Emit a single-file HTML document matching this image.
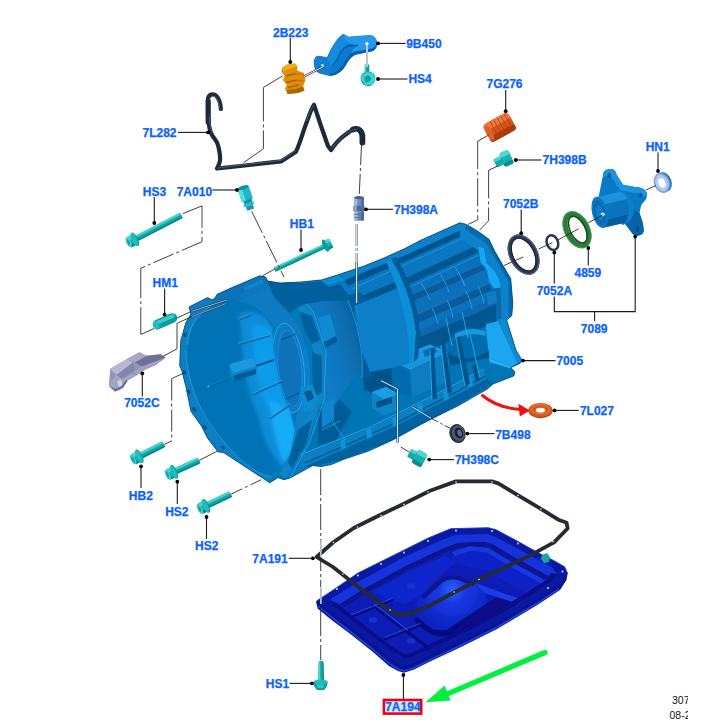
<!DOCTYPE html>
<html><head><meta charset="utf-8"><title>7A194 Transmission Case Exploded View</title>
<style>
html,body{margin:0;padding:0;background:#fff;}
body{width:725px;height:725px;overflow:hidden;font-family:"Liberation Sans",sans-serif;}
svg{display:block;position:absolute;left:0;top:0;}
.lb{font-family:"Liberation Sans",sans-serif;font-weight:bold;font-size:12px;fill:#0a62fb;stroke:#0a62fb;stroke-width:0.25px;}
.ld{stroke:#1a1a1a;stroke-width:1.1;fill:none;}
.dt{fill:#000;}
.dd{stroke:#222;stroke-width:0.9;fill:none;stroke-dasharray:22 3 3 3;}
.sl{stroke:#222;stroke-width:0.9;fill:none;}
.wl{stroke:#fff;stroke-width:1.2;fill:none;}
</style></head><body>
<svg width="725" height="725" viewBox="0 0 725 725">
<rect width="725" height="725" fill="#fff"/>
<defs>
<clipPath id="trClip"><path id="trSil" d="M189,307 L207.6,297.6 L211.7,299.7 L214.8,298.6 L216.9,294.5 L230.3,288.3 L242.8,283.1 L259.3,275.9 L265.5,276.9 L267.6,281 L280,283 L300.7,282 L321.4,280 L338,274.8 L362.8,266.5 L383.4,258.3 L404,249 L420.7,240.3 L441.4,231 L460,222.8 L466.2,224.4 L477.6,231 L489,239.3 L495,251.7 L503.4,266.2 L510.7,278.6 L512.8,303.4 L511.7,315.9 L506.6,320 L515.9,350 L522,360.3 L520,363.4 L510.7,367.6 L514.8,371.7 L513.8,375.9 L493,384 L487,389.3 L472.4,397.6 L458,405.9 L441.4,414 L420.7,424.5 L393.4,439.7 L368.6,451 L343.8,459.3 L331.4,464.5 L321,466.6 L312.8,465.5 L290,478 L284,479.7 L277.9,477.6 L269.7,482.8 L263.4,478.6 L242.8,465.2 L224,452.8 L217.9,451.7 L207.6,438.3 L201.4,425.9 L191,411.4 L185.9,386.6 L181.7,370 L179.7,365.9 L180.7,341 L185.9,322.4 L191,314 Z"/></clipPath>
<linearGradient id="gBell" gradientUnits="userSpaceOnUse" x1="185" y1="360" x2="305" y2="400">
<stop offset="0" stop-color="#0a6fae"/><stop offset="0.35" stop-color="#0a74b4"/><stop offset="0.52" stop-color="#0f86cc"/><stop offset="0.62" stop-color="#1ba0e4"/><stop offset="0.78" stop-color="#1492d6"/><stop offset="1" stop-color="#0b78ba"/>
</linearGradient>
<linearGradient id="gBody" gradientUnits="userSpaceOnUse" x1="380" y1="245" x2="420" y2="420">
<stop offset="0" stop-color="#0d80c2"/><stop offset="0.3" stop-color="#0b78b8"/><stop offset="0.6" stop-color="#0a6fae"/><stop offset="1" stop-color="#0a72b2"/>
</linearGradient>
<linearGradient id="gTeal" x1="0" y1="0" x2="0" y2="1"><stop offset="0" stop-color="#4fd6d2"/><stop offset="0.45" stop-color="#14aeb0"/><stop offset="1" stop-color="#0a8890"/></linearGradient>
<linearGradient id="gPan" gradientUnits="userSpaceOnUse" x1="330" y1="560" x2="560" y2="640">
<stop offset="0" stop-color="#0a1aa6"/><stop offset="0.5" stop-color="#0c22c4"/><stop offset="1" stop-color="#0a1cb0"/>
</linearGradient>
<clipPath id="bellInt"><path d="M184,345 C186,326 196,312 210,305 C224,298 244,300 259,310 L272,327 L274,351 L278.8,377.7 L283,395 L289.8,408.6 L295,430 L290,455 L280,470 L270,477 C250,474 228,452 210,428 C194,404 182,372 184,345 Z"/></clipPath>
<filter id="blur2" x="-20%" y="-20%" width="140%" height="140%"><feGaussianBlur stdDeviation="2.2"/></filter>
<filter id="blur1" x="-10%" y="-10%" width="120%" height="120%"><feGaussianBlur stdDeviation="1.1"/></filter>
<filter id="softT" x="-2%" y="-2%" width="104%" height="104%"><feGaussianBlur stdDeviation="0.45"/></filter>
<linearGradient id="gMid" gradientUnits="userSpaceOnUse" x1="318" y1="360" x2="364" y2="345"><stop offset="0" stop-color="#0a7cc4"/><stop offset="0.45" stop-color="#0976bc"/><stop offset="1" stop-color="#0664a4"/></linearGradient>
</defs>
<!-- TRANSMISSION CASE -->
<g id="trans">
<use href="#trSil" fill="#067abc"/>
<g clip-path="url(#trClip)"><g filter="url(#softT)">
<!-- ===== barrel bands (rear cylinder) ===== -->
<path d="M340,270 L404,246 L462,220 L466,228 L404,256 L345,280 Z" fill="#0a80ca"/>
<path d="M345,280 L404,256 L466,228 L468,233 L404,262 L348,286 Z" fill="#06528e"/>
<path d="M348,286 L404,262 L468,233 L476,246 L410,276 L352,300 Z" fill="#0a76c0"/>
<path d="M352,300 L410,276 L476,246 L479,252 L412,283 L354,306 Z" fill="#06568f"/>
<path d="M354,306 L412,283 L479,252 L488,276 L494,298 L420,330 L362,352 Z" fill="#0a70ba"/>
<path d="M400,300 L484,264 L486,269 L402,306 Z" fill="#075a98"/>
<path d="M410,318 L490,284 L492,290 L413,325 Z" fill="#075a98"/>
<path d="M362,352 L420,330 L494,298 L496,322 L440,346 L392,366 L370,372 Z" fill="#0868ae"/>
<path d="M404,344 L470,316 L496,304 L496,322 L440,346 L408,360 Z" fill="#06568f"/>
<!-- barrel circumferential light lines -->
<g stroke="#22a2ea" stroke-width="0.9" fill="none">
<path d="M421,283 C425,289 428,294 430,300"/><path d="M440,274 C444,280 447,286 449,292"/><path d="M455,267 C459,273 462,279 464,285"/>
<path d="M432,308 C435,314 437,319 438,324"/><path d="M447,300 C450,306 452,312 453,318"/><path d="M458,272 C462,278 464,282 465,286"/><path d="M466,291 C469,297 471,303 472,309"/><path d="M478,286 C481,292 483,298 484,304"/>
<path d="M352,289 L404,265 L468,236" stroke-width="0.7"/><path d="M356,309 L412,286 L479,255" stroke-width="0.7"/>
</g>
<!-- ===== end flange ===== -->
<path d="M459.7,222.8 L466,224.4 L477.6,231 L489,239.3 L495,251.7 L503.4,266.2 L510.7,278.6 L512.8,303.4 L511.7,315.9 L506.6,320 L497,323 L496,296 L489,277 L479,251 L460,238 Z" fill="#0a82ca"/>
<path d="M478.1,246.5 L483.9,248.1 L486.4,263 L494.7,271.3 L499.6,281.2 L500.5,287.8 L494.7,288.7 L488.9,281.2 L487.2,270.5 L480.6,262.2 Z" fill="#16a6f2"/>
<path d="M489.5,289 L500.5,287.8 L501.5,318 L496.5,321 L495.5,300 Z" fill="#0868ae"/>
<path d="M486.5,293 L496,291 L497,303 L488,305 Z" fill="#0a7cc4"/>
<path d="M466,224.4 L489,239.3 L510.7,278.6 L512.8,303.4 L511.7,315.9 L508.5,317 L508.5,282 L486.5,243.5 L465,229 Z" fill="#066aae"/>

<!-- ===== lower right ===== -->
<path d="M486,324 L507.6,319 L521,360.3 L511.7,366.6 L489,358.3 L486,340 Z" fill="#1ba6ee"/>
<path d="M498,321.5 L507.6,319 L522,360.3 L517.5,363.5 Z" fill="#0e8ad0"/>
<path d="M489,358.3 L511.7,366.6 L514.8,371.7 L513.8,375.9 L493,384 L478,374 Z" fill="#0676b8"/>
<path d="M489,358.3 L511.7,366.6 L510.7,368.5 L486,361 Z" fill="#2ab0f0"/>
<!-- servo cylinder -->
<path d="M452,336 C458,328 472,326 486,330 L489,357 C482,366 464,371 452,366 C446,356 446,344 452,336 Z" fill="#066cb0"/>
<path d="M455,334 C462,329 474,328 485,331 L485.5,336 C474,333 463,334 455,339 Z" fill="#1a98dc"/>
<path d="M448,352 C458,362 476,360 489,350 L489,358 C478,368 460,372 450,366 Z" fill="#03528a"/>
<!-- ===== valve body / lower ===== -->
<path d="M352,380 L392,366 L440,346 L449,366 L489,358 L493,384 L441.4,414 L393.4,439.7 L343.8,459.3 L312.8,465.5 L300,440 L322,400 Z" fill="#0574b6"/>
<!-- dark shadow left of accumulator box -->
<path d="M362,354 L378,346 L392,358 L393,390 L380,396 L364,390 Z" fill="#03528a"/>
<!-- boss near 7H398A target -->
<path d="M353,348 L366,343 L369,360 L357,367 Z" fill="#0c8ad0"/><circle cx="361" cy="355" r="2" fill="#03528a"/>
<!-- accumulator box -->
<path d="M391,361 L430,345 L447,353 L410,370 Z" fill="#1296de"/>
<path d="M391,361 L410,370 L412,398 L393,391 Z" fill="#066aae"/>
<path d="M410,370 L447,353 L449,381 L412,398 Z" fill="#087cc0"/>
<path d="M391,361 L430,345 L447,353" stroke="#2eaef0" stroke-width="0.9" fill="none"/>
<path d="M423,351 L435,346.5 L437,352 L425,357 Z" fill="#066aae"/>
<!-- fittings cluster -->
<path d="M372,392 L386,387 L398,394 L398,410 L384,416 L372,408 Z" fill="#0a84c8"/>
<path d="M372,392 L386,387 L398,394 L384,399 Z" fill="#1f9ee2"/>
<path d="M376,402 L392,397 L392,403 L377,408 Z" fill="#03528a"/>
<!-- rail (pan flange) -->
<path d="M300,467 L344,448 L398,424 L441,402 L486,378 L493,384 L441.4,414 L393.4,439.7 L343.8,459.3 L312.8,466.5 Z" fill="#0562a0"/>
<path d="M300,456 L330,444 L370,428 L410,408 L450,388 L484,370 L487,379 L441,403 L398,425 L344,449 L302,468 Z" fill="#087ec2"/>
<path d="M300,455 L330,443 L370,427 L410,407 L450,387 L484,369" stroke="#2aa8ea" stroke-width="0.9" fill="none"/>
<path d="M305,463 L344,446 L398,422 L441,400 L486,376" stroke="#03528a" stroke-width="1.2" fill="none"/>
<!-- rail lugs -->
<g fill="#1094dc"><path d="M340,441 l5,-2 l1,9 l-5,2 z"/><path d="M366,430 l5,-2 l1,9 l-5,2 z"/><path d="M392,418 l5,-2 l1,9 l-5,2 z"/><path d="M417,405 l5,-2 l1,9 l-5,2 z"/><path d="M443,392 l5,-2 l1,9 l-5,2 z"/><path d="M467,379 l5,-2 l1,9 l-5,2 z"/></g>
<!-- lower-left dark pocket near bell -->
<path d="M318,410 L340,400 L352,412 L336,440 L318,446 Z" fill="#045c98"/>
<path d="M330,418 L345,440 M322,430 L340,421" stroke="#2aa6e6" stroke-width="0.8" fill="none"/>
<!-- ribs lower (vertical fins) -->
<g fill="#03528a"><path d="M441,345 L445,343 L452,392 L447,394 Z"/><path d="M456,338 L460,336 L470,384 L465,386 Z"/><path d="M430,350 L434,349 L437,398 L432,400 Z"/><path d="M472,366 L476,364 L480,380 L476,382 Z"/></g>
<g stroke="#2eaaea" stroke-width="0.9" fill="none"><path d="M441,345 L447,394"/><path d="M456,338 L465,386"/><path d="M430,350 L432,400"/><path d="M470,334 L480,378"/><path d="M446,318 L452,346"/><path d="M462,312 L468,338"/></g>
<!-- ===== mid-section smooth ===== -->
<path d="M290,296 L340,288 L352,300 L362,352 L370,372 L352,380 L330,412 L318,400 L324,352 L312,312 Z" fill="url(#gMid)"/>
<path d="M346,296 C358,322 364,352 362,380 L372,376 L378,346 L372,310 L360,292 Z" fill="#055c9a"/>
<path d="M346,296 C358,322 364,352 362,378" stroke="#27a4e4" stroke-width="0.8" fill="none"/>
<!-- top rail over bell rear -->
<path d="M262,276 L267.6,281 L300.7,282 L338,274.8 L345,280 L309,291 L265,294 Z" fill="#0c8ad0"/>
<path d="M280,296.5 L309,292 L340,284.3 L352,300 L322,301 L294,306.4 Z" fill="#045e9a"/>
<!-- ===== ring (circumferential flange) ===== -->
<path d="M354,306 L403,286 C409,300 414,316 416,332 L414,362 L392,368 L370,372 L362,352 Z" fill="#0a7ec8"/>
<path d="M386,261 L391,259 C402,276 412,300 416,332 L414,362 L409,363 C410,330 402,296 386,261 Z" fill="#0e8ed8"/>
<path d="M391,259 L396,257 C408,276 418,304 420,334 L418,358 L414,362 L416,332 C412,300 402,276 391,259 Z" fill="#045c98"/>
<!-- ===== bell rear cone ===== -->
<path d="M216,294 L262,276 L290,284 L312,312 L324,352 L322,400 L308,440 L286,478 L268,483 L262,470 L290,430 L298,380 L290,330 L268,300 Z" fill="#0679bb"/>
<path d="M216,294 L262,276 L290,284 L308,306 L292,302 L268,292 L228,302 Z" fill="#0a72ba"/>
<path d="M290,284 L312,312 L324,352 L322,400 L308,440 L286,478 L280,474 L300,436 L313,398 L314,352 L304,316 L284,292 Z" fill="#0a84c8"/>
<path d="M292,286 L314,313 L326,352 L324,400 L310,441 L290,478" stroke="#27a4e4" stroke-width="0.9" fill="none"/>
<!-- strap over bell top + shadow -->
<path d="M267,281 L300,283 L322,281 L332,290 L318,300 L300,306 L290,313 L274,297 Z" fill="#04609e"/>
<path d="M233,286.5 L259.8,275.8 L267,281 L274,297 L286.7,311.6 L299,326 L306,346 L310,372 L296,372 L290,345 L276,327.8 L265,315 L247,301 L233,292 Z" fill="#0a7ac2"/>
<path d="M233,286.5 L259.8,275.8 L267,281 L270,288 L244,298 Z" fill="#0a76be"/>
<path d="M306,346 L310,372 L308,410 L300,440 L288,466 L281,470 L292,440 L298,408 L298,372 L296,372 Z" fill="#0a80c8"/>
<!-- dark pockets in bell rear -->
<path d="M300,312 L312,316 L320,340 L312,344 L304,330 Z" fill="#04609e"/>
<path d="M312,352 L322,356 L322,392 L313,398 Z" fill="#05649f"/>
<path d="M298,430 L312,420 L306,444 L292,468 L288,462 Z" fill="#04609e"/>
<!-- lugs on bell rear -->
<path d="M318,318 L330,314 L336,336 L324,342 Z" fill="#0e8cd4"/><path d="M324,342 L336,336 L337,342 L325,348 Z" fill="#045c98"/>
<path d="M322,404 L334,398 L334,420 L322,428 Z" fill="#0c86ce"/>
<!-- hub flange (pump cover) -->
<ellipse cx="288.5" cy="368" rx="15.5" ry="45" transform="rotate(-6 288.5 368)" fill="#0a7cc4"/>
<ellipse cx="288.5" cy="368" rx="15.5" ry="45" transform="rotate(-6 288.5 368)" fill="none" stroke="#2aa8ea" stroke-width="0.9"/>
<ellipse cx="290" cy="368.5" rx="11.5" ry="38" transform="rotate(-6 290 368.5)" fill="#0872b8" stroke="#1c98dc" stroke-width="0.7"/>
<path d="M281,340 L296,334 M284,400 L299,393" stroke="#045c98" stroke-width="1.2" fill="none"/>
<!-- connector on pump cover -->
<path d="M300,388 L312,384 L318,398 L314,410 L304,412 Z" fill="#0c8ad0"/>
<path d="M304,392 L311,390 L314,398 L308,402 Z" fill="#07588e"/>
<!-- ===== bell interior ===== -->
<path d="M184,345 C186,326 196,312 210,305 C224,298 244,300 259,310 L272,327 L274,351 L278.8,377.7 L283,395 L289.8,408.6 L295,430 L290,455 L280,470 L270,477 C250,474 228,452 210,428 C194,404 182,372 184,345 Z" fill="#0472b6"/>
<!-- crescent bright (soft) -->
<g clip-path="url(#bellInt)">
<g filter="url(#blur2)">
<path d="M239,314 C252,308 266,314 274,327 L276,351 L281,377.7 L285,395 L292,408.6 L297,430 L293,452 L284,468 C272,458 262,440 258,415 C250,400 246,380 244,369 C242,350 241,330 239,314 Z" fill="#0a8cd8"/>
<path d="M252,326 C260,322 268,326 273,334 L275,352 L279.5,378 L284,396 L290.5,410 L296,430 L293,448 L286,462 C278,448 272,430 270,412 C262,398 258,380 256,368 C254,350 253,338 252,326 Z" fill="#0c9cec"/>
<path d="M270,400 L290.5,410 L296,430 L293,450 L284,464 C276,446 271,424 270,400 Z" fill="#18acf6"/>
</g>
</g>
<!-- ribs in bell -->
<g stroke="#045c98" stroke-width="1.6" fill="none"><path d="M238,344.5 L270,335.7"/><path d="M252,395 L283,381"/><path d="M270,418.5 L289.8,405"/><path d="M238,320 L252,314.7"/></g>
<g stroke="#2aa8e8" stroke-width="0.9" fill="none"><path d="M238,343.5 L270,334.7"/><path d="M252,394 L283,380"/><path d="M270,417.5 L289.8,404"/><path d="M238,319 L252,313.7"/></g>
<!-- shaft stub -->
<path d="M230,364 L251,358 C256,360 258,368 256,374 L235,381 C230,378 228,370 230,364 Z" fill="#0a84c8"/>
<path d="M230,364 L251,358 C254,359 256,362 257,366 L233,373 C231,370 230,367 230,364 Z" fill="#1a98dc"/>
<path d="M233,376 L256,369 L256,374 L235,381 Z" fill="#045c98"/>
<path d="M208,386.8 L231,378" stroke="#045c98" stroke-width="1.6"/><path d="M208,386 L231,377.2" stroke="#1088d0" stroke-width="0.8"/><circle cx="208.5" cy="386.4" r="1.2" fill="#22b0f4"/>
<path d="M256,366 L274,360" stroke="#07588e" stroke-width="2"/>
<!-- rim band -->
<path d="M189,307 L191,314 L185.9,322.4 L180.7,341 L179.7,365.9 L185.9,386.6 L191,411.4 L207.6,438.3 L224,452.8 L263.4,478.6 L269.7,482.8 L272,477 C252,474 230,452 212,428 C196,404 185,372 187,345 C189,326 198,313 211,306 L214.8,298.6 L207.6,297.6 Z" fill="#0c7ec0"/>
<path d="M187,345 C189,326 198,313 211,306" stroke="#2aa8e8" stroke-width="0.9" fill="none"/>
<path d="M186,350 C186,376 197,406 213,428 C231,452 252,474 272,477" stroke="#1f9ee0" stroke-width="0.9" fill="none"/>
<!-- rim notches -->
<g fill="#045a96"><path d="M183.5,333 l3.2,-0.6 l0.3,4 l-3.2,0.6 z"/><path d="M182.6,370 l3.2,0.2 l0.5,4.4 l-3,-0.2 z"/><path d="M186.6,390 l3,-0.6 l1.4,4.4 l-3,0.8 z"/><path d="M191.6,408 l2.8,-1.2 l2.4,4.2 l-2.8,1.4 z"/><path d="M202,426 l2.6,-1.6 l3,4 l-2.6,1.8 z"/><path d="M220,447 l2.4,-1.8 l3.4,3 l-2.2,2 z"/></g>
<!-- rim top lugs -->
<path d="M189,307 L207.6,297.6 L211.7,299.7 L194,309 Z" fill="#0c7cc4"/>
<path d="M216.9,294.5 L259.3,275.9 L265.5,276.9 L267.6,281 L228,300 L214.8,298.6 Z" fill="#0a72ba"/><path d="M243,287.5 L262,279.5 L263.5,283 L245,291 Z" fill="#1084cc"/>
</g></g>
<use href="#trSil" fill="none" stroke="#06507f" stroke-width="0.9" stroke-linejoin="round"/>
</g>
<!-- OIL PAN 7A194 -->
<g id="pan">
<defs>
<clipPath id="panWell"><path d="M329,600 L359.7,580.7 L403.8,557.2 L439.7,540.7 L456,534.5 L487,534 L494,536 L517,548 L536,558.5 L552,567 L557,574 L552,581 L530,596 L495,617 L460,635 L430,649 L410,658 L403.4,658 L390,650 L372,636 L351,620 L335,607 Z"/></clipPath>
<radialGradient id="gSump" gradientUnits="userSpaceOnUse" cx="452" cy="590" r="40"><stop offset="0" stop-color="#2a62ff"/><stop offset="0.35" stop-color="#1638e0"/><stop offset="1" stop-color="#0c22c0"/></radialGradient>
<filter id="soft" x="-5%" y="-5%" width="110%" height="110%"><feGaussianBlur stdDeviation="0.6"/></filter>
</defs>
<!-- skirt / outer -->
<path d="M316,601.5 L331,592 L358,573.4 L403.4,550.7 L428.3,538.3 L450.7,529 L488,528 L496,530 L519,542.4 L537.6,552.8 L554,561 L564.5,567 L567.6,573.4 L566.5,580 L560,590 L538,604.5 L497,629 L461,647 L430,661.4 L414,669.5 L404,672.8 L398,671 L389,666 L372.4,651.6 L351.7,635 L331,619.5 L317.6,608.5 Z" fill="#08148e"/>
<!-- skirt highlight -->
<path d="M318,606 L332,617.5 L352,633 L373,649.5 L390,664 L399,669.5 L404,671 L414,667.8 L430,659.8 L461,645.2 L497,627.3 L538,602.8 L559,589" stroke="#1a44e0" stroke-width="1.6" fill="none" stroke-linejoin="round"/>
<!-- flange top -->
<path d="M316.5,601 L331,591.5 L358,573 L403.4,550.4 L428.3,538 L450.7,528.7 L488,527.7 L496,529.7 L519,542 L537.6,552.5 L554,560.7 L564.5,566.7 L567.6,573.4 L562,582 L538,598.5 L497,623 L461,641 L430,655 L410,664.5 L403,666 L390,658 L372,643.5 L351,627.5 L331,612 Z" fill="#0a1aa0"/>
<g clip-path="url(#panWell)" filter="url(#soft)">
<rect x="320" y="525" width="250" height="140" fill="#0b1eb4"/>
<!-- far wall (top-left) lit -->
<path d="M329,600 L359.7,580.7 L403.8,557.2 L439.7,540.7 L456,534.5 L487,534 L494,536 L517,548 L536,558.5 L552,567 L557,574 L548,576 L530,566 L512,556 L492,544 L484,542 L458,543 L442,549 L406,566 L364,589 L340,604 Z" fill="#1432da"/>
<path d="M340,604 L364,589 L406,566 L442,549 L458,543 L484,542 L492,544 L512,556 L530,566 L548,576 L544,579 L528,570 L510,560 L490,548 L484,546.5 L459,547.5 L444,553 L408,570 L366,593 L345,607 Z" fill="#08128a"/>
<!-- upper-right raised plateau -->
<path d="M452,552 L470,546 L488,548 L508,560 L528,571 L546,581 L528,594 L506,582 L486,570 L466,566 L452,560 Z" fill="#0c24c4"/>
<path d="M452,552 L470,546 L488,548 L508,560 L528,571 L546,581 L542,584 L524,574 L506,564 L487,552.5 L471,550.5 L455,556 Z" fill="#1838e0"/>
<!-- deep sump -->
<path d="M440,579 C444,576 452,574 460,576 L476,583 C484,588 488,598 486,604 L448,629 C442,632 434,630 428,626 L416,616 C412,610 416,602 422,596 Z" fill="url(#gSump)"/>
<path d="M416,616 L428,626 C434,630 442,632 448,629 L486,604 L487,610 L449,635 C442,638 433,636 427,632 L414,621 Z" fill="#06107c"/>
<path d="M440,579 C444,576 452,574 460,576 L476,583 L473,586 L459,580 C452,578 446,580 442,583 L424,599 L421,596 Z" fill="#08128a"/>
<!-- step right of sump -->
<path d="M476,583 L500,592 L529,602 L524,606 L497,597 L484,593 Z" fill="#1a3ce4"/>
<path d="M486,604 L497,597 L524,606 L512,613 L492,620 L470,632 L449,635 Z" fill="#07108a"/>
<!-- lit floor band upper-left of sump -->
<path d="M372,592 L408,572 L444,556 L456,562 L438,578 L420,596 L404,604 L386,598 Z" fill="#0e26cc"/>
<!-- stamped ribs lower-left -->
<g stroke="#050d70" stroke-width="2.8" fill="none" stroke-linecap="round"><path d="M351,616.5 L392,600"/><path d="M385,639 L420,625"/><path d="M373,605.5 L406,631"/><path d="M406,631 L430,649"/></g>
<g stroke="#2048e8" stroke-width="1.1" fill="none" stroke-linecap="round"><path d="M351,615 L392,598.5"/><path d="M385,637.5 L420,623.5"/><path d="M374.5,604.5 L407.5,630"/></g>
<ellipse cx="373" cy="620" rx="4.5" ry="3" fill="#1230cc"/><ellipse cx="411" cy="641" rx="4.5" ry="3" fill="#1230cc"/><ellipse cx="411" cy="586" rx="4.5" ry="3" fill="#1230cc"/>
<!-- near walls inside (shadowed) -->
<path d="M329,600 L335,607 L351,620 L372,636 L390,650 L403.4,658 L410,658 L430,649 L460,635 L495,617 L530,596 L552,581 L557,574 L551,573 L546,580 L526,593 L493,613 L458,631 L428,645 L409,654 L404,654 L392,646.5 L374,632.5 L353,616.5 L338,604 Z" fill="#07108a"/>
</g>
<!-- flange edge highlight & bolt holes -->
<path d="M316.5,601 L331,591.5 L358,573 L403.4,550.4 L428.3,538 L450.7,528.7 L488,527.7 L496,529.7 L519,542 L537.6,552.5 L554,560.7 L564.5,566.7 L567.6,573.4" stroke="#1a3ad8" stroke-width="0.9" fill="none"/>
<g fill="#dfe6ff">
<circle cx="337" cy="589" r="0.9"/><circle cx="358" cy="575.5" r="0.9"/><circle cx="381" cy="564" r="0.9"/><circle cx="404" cy="552.5" r="0.9"/><circle cx="428" cy="541" r="0.9"/><circle cx="456" cy="530.5" r="0.9"/><circle cx="492" cy="531" r="0.9"/><circle cx="518" cy="543.5" r="0.9"/><circle cx="562.5" cy="571.5" r="0.9"/><circle cx="548" cy="588" r="0.9"/>
</g>
<!-- drain plug -->
<path d="M542,555 L547,553 L550,557 L549,562 L544,563 L541,559 Z" fill="#18a89c"/>
</g>
<!-- GASKET 7A191 -->
<g id="gasket">
<path d="M316.6,557 L333,542.5 L353.8,528 L378,516 L403.4,504 L430,490.7 L455.9,481.4 L492,481.4 L498.3,483.4 L519,495.9 L541.7,509.3 L558.3,519.7 L566.6,522.8 L567.6,528.5 L554,542.4 L529.3,555.9 L492,573.4 L454.8,592 L430,605.5 L410,613.5 L397,614.8 L378.6,602.4 L351.7,581.7 L333,567 Z" fill="none" stroke="#262a32" stroke-width="3.8" stroke-linejoin="round"/>
<g fill="#e8ecf2">
<circle cx="333.5" cy="542.5" r="0.8"/><circle cx="357.5" cy="527" r="0.8"/><circle cx="381" cy="515.5" r="0.8"/><circle cx="404" cy="504.5" r="0.8"/><circle cx="428" cy="492" r="0.8"/><circle cx="456" cy="482" r="0.8"/><circle cx="492" cy="482" r="0.8"/><circle cx="518" cy="495.5" r="0.8"/><circle cx="541" cy="509" r="0.8"/><circle cx="562.5" cy="523.5" r="0.8"/><circle cx="553" cy="541.5" r="0.8"/><circle cx="479" cy="579.5" r="0.8"/><circle cx="454" cy="592" r="0.8"/><circle cx="390" cy="610" r="0.8"/><circle cx="343" cy="574" r="0.8"/>
</g>
</g>
<!-- SMALL PARTS -->
<defs>
<linearGradient id="gTealD" gradientUnits="objectBoundingBox" x1="0" y1="0" x2="0.35" y2="1"><stop offset="0" stop-color="#52d8d4"/><stop offset="0.5" stop-color="#17b0b2"/><stop offset="1" stop-color="#0a8a92"/></linearGradient>
<g id="boltL">
<rect x="-6.2" y="-5.2" width="7" height="10.4" rx="2" fill="#16aeb0"/>
<rect x="-6.2" y="-5.2" width="7" height="3.6" rx="1.6" fill="#4cd6d2"/>
<rect x="-6.2" y="2.6" width="7" height="2.6" rx="1.2" fill="#0b8a90"/>
<ellipse cx="0.6" cy="0" rx="2.5" ry="6.9" fill="#109a9e"/>
<ellipse cx="-0.2" cy="0" rx="2.3" ry="6.7" fill="#22bcbc"/>
<ellipse cx="-6" cy="0" rx="2.1" ry="4.9" fill="#3ccccc"/>
<ellipse cx="-6.2" cy="0" rx="1.1" ry="2.8" fill="#14a4a6"/>
</g>
<g id="boltR">
<ellipse cx="0" cy="0" rx="2.5" ry="6.6" fill="#22bcbc"/>
<rect x="0" y="-5" width="6" height="10" rx="2" fill="#16aeb0"/>
<rect x="0" y="-5" width="6" height="3.4" rx="1.6" fill="#4cd6d2"/>
<rect x="0" y="2.6" width="6" height="2.4" rx="1.2" fill="#0b8a90"/>
<ellipse cx="-0.8" cy="0" rx="2.2" ry="6.4" fill="#109a9e"/>
</g>
</defs>
<!-- HS3 -->
<g transform="translate(134.5,239.5) rotate(-27.3)"><rect x="0" y="-3.0" width="52.9" height="6.0" rx="2.4" fill="#12a4a6"/><rect x="0" y="-3.0" width="52.9" height="2.16" rx="1.08" fill="#48d2ce"/><rect x="0" y="1.44" width="52.9" height="1.56" rx="0.78" fill="#0a868c"/><use href="#boltL" transform="scale(1.08)"/></g>
<!-- HB1 -->
<g transform="translate(274.5,269.8) rotate(-25.3)"><rect x="0" y="-2.3" width="56.9" height="4.6" rx="1.8" fill="#12a4a6"/><rect x="0" y="-2.3" width="56.9" height="1.66" rx="0.83" fill="#48d2ce"/><rect x="0" y="1.10" width="56.9" height="1.20" rx="0.60" fill="#0a868c"/><use href="#boltR" transform="translate(56.9,0) scale(1.0)"/></g>
<!-- HM1 pin -->
<g><path d="M157.5,324.5 L172.5,318" stroke="#0f9c9e" stroke-width="9.6" stroke-linecap="round"/><path d="M157.5,322.6 L172.5,316.2" stroke="#3cccc8" stroke-width="3.6" stroke-linecap="round"/><ellipse cx="156.1" cy="325.2" rx="2.9" ry="4.5" transform="rotate(-20 156.3 325)" fill="#26bcbc"/></g>
<!-- HB2 -->
<g transform="translate(139,456.5) rotate(-26.6)"><rect x="0" y="-3.2" width="28.0" height="6.4" rx="2.6" fill="#12a4a6"/><rect x="0" y="-3.2" width="28.0" height="2.30" rx="1.15" fill="#48d2ce"/><rect x="0" y="1.54" width="28.0" height="1.66" rx="0.83" fill="#0a868c"/><use href="#boltL" transform="scale(1.08)"/></g>
<!-- HS2 a -->
<g transform="translate(173.7,472) rotate(-24.5)"><rect x="0" y="-3.2" width="28.2" height="6.4" rx="2.6" fill="#12a4a6"/><rect x="0" y="-3.2" width="28.2" height="2.30" rx="1.15" fill="#48d2ce"/><rect x="0" y="1.54" width="28.2" height="1.66" rx="0.83" fill="#0a868c"/><use href="#boltL" transform="scale(1.08)"/></g>
<!-- HS2 b -->
<g transform="translate(205.7,506) rotate(-25.4)"><rect x="0" y="-3.2" width="28.0" height="6.4" rx="2.6" fill="#12a4a6"/><rect x="0" y="-3.2" width="28.0" height="2.30" rx="1.15" fill="#48d2ce"/><rect x="0" y="1.54" width="28.0" height="1.66" rx="0.83" fill="#0a868c"/><use href="#boltL" transform="scale(1.08)"/></g>
<!-- HS1 (vertical) -->
<g><path d="M318.6,662 C318.6,660.2 323.4,660.2 323.4,662 L324,681 L318,681 Z" fill="#12a4a6"/><path d="M318.7,662 L320.2,661 L320.4,681 L318.1,681 Z" fill="#52d8d4"/><path d="M322.6,662 L323.4,662.5 L324,681 L322.8,681 Z" fill="#0a868c"/>
<ellipse cx="320.6" cy="682" rx="7.2" ry="2.6" fill="#22bcbc"/><path d="M313.4,682 L314.2,686.5 L317,689.8 L324,689.8 L326.8,686.5 L327.8,682 C326,684.6 315.5,684.6 313.4,682 Z" fill="#12a0a4"/><path d="M317,684.2 L317.6,689.8 L323.4,689.8 L324,684.2 Z" fill="#2cc4c2"/><path d="M314.2,686.5 L317,689.8 L324,689.8 L326.8,686.5 L324.5,688.5 L316.5,688.5 Z" fill="#0a8288"/></g>
<!-- HS4 -->
<g><path d="M367,64.5 V73" stroke="#0f9a9c" stroke-width="4.6"/><path d="M365.6,64.5 V73" stroke="#44d0cc" stroke-width="1.3"/><circle cx="368" cy="78.6" r="7.4" fill="#14aeb0"/><path d="M361.5,76.5 L366,72 L372.5,73 L375.2,78.5 L372,84.8 L365.5,85.5 L361.5,81.5 Z" fill="#3fd4d0"/><path d="M364,77.5 L368,75 L371.5,78.5 L369,82 L365.5,82.5 Z" fill="#0f9a9c"/><path d="M361,80 A7.4 7.4 0 0 0 373,84.2 L372,84.8 L365.5,85.5 Z" fill="#0a8288"/></g>
<!-- 7A010 -->
<g transform="translate(247 199) scale(1.06) translate(-247 -199) rotate(-19 247 199)"><rect x="241.5" y="187.5" width="11" height="13" rx="1.2" fill="#1fb6c6"/><rect x="241.5" y="187.5" width="4" height="13" fill="#5adce4"/><rect x="243" y="200" width="8" height="3" fill="#0f94a6"/><rect x="242" y="203" width="10" height="2.6" fill="#22bccc"/><rect x="243.5" y="205.6" width="7" height="4" fill="#139cae"/><ellipse cx="247" cy="187.7" rx="5.5" ry="1.8" fill="#0f90a2"/></g>
<!-- 7H398A -->
<g><rect x="354.2" y="197" width="9.6" height="9.5" rx="1.6" fill="#6f8cb8"/><rect x="354.2" y="197" width="3.2" height="9.5" rx="1" fill="#a2bcdc"/><rect x="361.4" y="197" width="2.4" height="9.5" rx="1" fill="#4a6590"/><ellipse cx="359" cy="197.4" rx="4.6" ry="1.5" fill="#4a5f88"/>
<rect x="353.4" y="205.8" width="11.2" height="5.6" rx="1.2" fill="#4f6a98"/><rect x="353.4" y="205.8" width="3.4" height="5.6" rx="1" fill="#86a2c8"/>
<rect x="354.4" y="211.2" width="9.4" height="9.6" rx="1.6" fill="#6886b4"/><rect x="354.4" y="211.2" width="3.2" height="9.6" rx="1" fill="#9cb6d8"/><rect x="361.4" y="211.2" width="2.4" height="9.6" rx="1" fill="#48628c"/><path d="M354.4,214.5 H363.8 M354.4,217.5 H363.8" stroke="#4a6590" stroke-width="0.7"/></g>
<!-- 7G276 -->
<g transform="rotate(-29 500 127)"><rect x="485" y="117" width="29" height="20" rx="6" fill="#d8521a"/><rect x="485" y="117" width="29" height="7" rx="4" fill="#ee7a3c"/><rect x="485" y="131" width="29" height="6" rx="3" fill="#a83a0c"/><g stroke="#b8400e" stroke-width="0.8"><path d="M494,117.5V137"/><path d="M498,117.5V137"/><path d="M502,117.5V137"/><path d="M506,117.5V137"/><path d="M510,117.5V137"/></g><ellipse cx="488" cy="127" rx="3.2" ry="8.5" fill="#e0602a"/></g>
<!-- 7H398B -->
<g transform="rotate(-25 504 160)"><rect x="494.5" y="155" width="9" height="9" rx="1" fill="#14a8aa"/><rect x="494.5" y="155" width="9" height="3" fill="#4ad4d0"/><rect x="502" y="152" width="10" height="15" rx="3" fill="#18b0b0"/><rect x="502" y="152" width="10" height="5" rx="2.5" fill="#50d8d4"/><rect x="502" y="163" width="10" height="4" rx="2" fill="#0c8a8e"/></g>
<!-- 7H398C -->
<g transform="rotate(28 417 457)"><rect x="408" y="452.5" width="8" height="9" rx="1" fill="#14a8aa"/><rect x="408" y="452.5" width="8" height="3" fill="#4ad4d0"/><rect x="414.5" y="449.5" width="11" height="15" rx="3.5" fill="#18b0b0"/><rect x="414.5" y="449.5" width="11" height="5" rx="2.5" fill="#50d8d4"/><rect x="414.5" y="460.5" width="11" height="4" rx="2" fill="#0c8a8e"/></g>
<!-- 7052B ring -->
<g transform="rotate(-27 523.6 254.6)"><ellipse cx="523.6" cy="254.6" rx="12.2" ry="19.3" fill="none" stroke="#2a3850" stroke-width="4.2"/><ellipse cx="523.6" cy="254.6" rx="13.7" ry="20.8" fill="none" stroke="#56688a" stroke-width="0.9"/><ellipse cx="523.6" cy="254.6" rx="10.4" ry="17.4" fill="none" stroke="#141b28" stroke-width="0.9"/></g>
<!-- 7052A ring -->
<g transform="rotate(-22 552.4 242.6)"><ellipse cx="552.4" cy="242.6" rx="5.6" ry="7.6" fill="none" stroke="#2a3850" stroke-width="2.5"/></g>
<!-- 4859 seal -->
<g transform="rotate(-27 577 229.8)"><ellipse cx="577" cy="229.8" rx="10.2" ry="17.2" fill="none" stroke="#2b7c38" stroke-width="5"/><ellipse cx="577" cy="229.8" rx="12.4" ry="19.4" fill="none" stroke="#48a054" stroke-width="0.9"/><ellipse cx="577.8" cy="230" rx="7.6" ry="14.4" fill="none" stroke="#1a4826" stroke-width="1.6"/></g>
<!-- 7089 flange -->
<g id="flange">
<path d="M603,175 C603,170.5 607,168.5 612.2,169 C615,170 616,172 616.8,175 L623,184.8 L636.2,187.3 C641,187 646,189.5 647,193.5 C647.3,197 646,199.5 645,200.5 L641.2,205 L639.5,213 L642.8,222.8 L643.9,231 C643,234.5 640,236 636.5,235.6 C634.5,235.4 633,234.5 632,233 L623,221 L606,226 L598,200 Z" fill="#0a78c2"/>
<path d="M603,175 C603,170.5 607,168.5 612.2,169 C615,170 616,172 616.8,175 L623,184.8 L636.2,187.3 C641,187 646,189.5 647,193.5 L645,197 C642,193 637,192 632,192.5 L620,190 L612,178 C610,175 606,174.5 603.5,178 Z" fill="#1a94e0"/>
<path d="M639.5,213 L642.8,222.8 L643.9,231 C643,234.5 640,236 636.5,235.6 C634.5,235.4 633,234.5 632,233 L623,221 L630,208 Z" fill="#0764aa"/>
<path d="M616,190 C626,190 634,198 634,209 C634,218 628,224 622,225 L612,200 Z" fill="#0c80cc"/>
<path d="M597.3,197.2 L619.7,191.4 C627,194 630,204 629,212 C628,218 626,221.5 624.6,222.8 L603,227.8 Z" fill="#0a74be"/>
<path d="M597.3,197.2 L619.7,191.4 C623.5,192.7 626,195.5 627.6,199 L600,205.5 Z" fill="#1a92de"/>
<path d="M601,221.5 L628,214.5 C627.4,218.5 626,221.5 624.6,222.8 L603,227.8 Z" fill="#065c9e"/>
<ellipse cx="599.8" cy="212.3" rx="7.8" ry="15.9" transform="rotate(-13 599.8 212.3)" fill="#0b78c4"/>
<ellipse cx="599.5" cy="212.5" rx="5.6" ry="12.2" transform="rotate(-13 599.5 212.5)" fill="#0968b2"/>
<ellipse cx="599.8" cy="212.8" rx="3.4" ry="7.6" transform="rotate(-13 599.8 212.8)" fill="#0c80cc"/>
<circle cx="602.8" cy="214.3" r="1.9" fill="#e6f0fa"/>
<ellipse cx="609.3" cy="175.5" rx="1.8" ry="2.4" fill="#055a9a"/><ellipse cx="640.6" cy="195.3" rx="1.8" ry="2.4" fill="#055a9a"/><ellipse cx="637.4" cy="229.5" rx="1.8" ry="2.4" fill="#044f8a"/>
</g>
<!-- HN1 nut -->
<g transform="rotate(-22 662.2 182.8)"><ellipse cx="664.2" cy="182.8" rx="7.4" ry="10" fill="#1874c4"/><ellipse cx="662" cy="182.8" rx="7.6" ry="10" fill="#8eb0e0"/><ellipse cx="661.6" cy="182.8" rx="6" ry="8.2" fill="#b4cbee"/><ellipse cx="661.8" cy="182.8" rx="3.3" ry="4.8" fill="#fff"/><ellipse cx="662" cy="182.8" rx="7.6" ry="10" fill="none" stroke="#6a8cc6" stroke-width="0.7"/></g>
<!-- 7L027 washer -->
<g><ellipse cx="540.5" cy="411" rx="12" ry="7.2" fill="#a83c0e"/><ellipse cx="540.5" cy="410" rx="12" ry="7" fill="#d65a1e"/><ellipse cx="540.5" cy="409.2" rx="9" ry="4.6" fill="none" stroke="#ec7e42" stroke-width="1"/><ellipse cx="540.5" cy="410.2" rx="4.6" ry="2.4" fill="#fff"/></g>
<!-- red arrow -->
<g><path d="M482.5,395.5 C494,405 508,409 523,409.5" stroke="#f01010" stroke-width="3" fill="none" stroke-linecap="round"/><path d="M530,410.5 L518.5,403.8 L519.8,416.5 Z" fill="#f01010"/></g>
<!-- 7B498 seal -->
<g transform="translate(457.5 433.6) scale(1.12) translate(-457 -433.6) rotate(-20 457 433.6)"><ellipse cx="457" cy="433.6" rx="7.2" ry="8.6" fill="#2a3446"/><ellipse cx="457.8" cy="433.6" rx="5.6" ry="7" fill="#4a5a74"/><ellipse cx="458.4" cy="433.6" rx="3.6" ry="5" fill="#161c28"/><ellipse cx="459" cy="433.8" rx="2" ry="3.2" fill="#5c6c88"/></g>
<!-- 2B223 clip -->
<g id="clip">
<path d="M282,68 L287,64.5 L295,63.5 L297.5,66.5 L297,70.5 L304,73 L305.5,80 L303,86.5 L304.5,90.5 L298,93 L287.5,94 L285,88.5 L287,84.5 L283,80.5 L284.5,75.5 L281.5,72 Z" fill="#e08c08"/>
<path d="M282,68 L287,64.5 L295,63.5 L297.5,66.5 L290,68.5 L284,71 Z" fill="#f2ac1c"/>
<path d="M287.5,94 L298,93 L304.5,90.5 L303,86.5 L296,89 L287,90 Z" fill="#a86604"/>
<path d="M286,76 L296,73.5 M285.5,82.5 L297,80 M288,87.5 L299,85" stroke="#8a5204" stroke-width="1" fill="none"/>
<path d="M296,73.5 L303.5,75 M297,80 L304.5,81.5" stroke="#b87406" stroke-width="1.2" fill="none"/>
</g>
<!-- 9B450 bracket -->
<g id="bracket">
<path d="M313.9,60.6 L315.5,57 L318,55.8 L327,57.3 C330,50 334,43.5 338,38.5 C340,37 341,36.6 342,36.6 C342,35.8 341.8,35.3 341.5,35 L343.7,34.2 C346,35 347.5,36.5 348.4,38 L369,35.6 C374,35 376.8,38.5 377,43 C377.2,47.5 375,50.5 371,51.5 L356,54.5 C351,56.5 348.5,60.5 346,65 C343,70 339.5,73 335,75 L329.6,76 L319.5,73.5 C315,71.5 313.5,66 313.9,60.6 Z" fill="#0e78cc"/>
<path d="M313.9,60.6 L315.5,57 L318,55.8 L327.2,57.4 L329.6,74.5 L319.5,72.5 C315,70.5 313.5,66 313.9,60.6 Z" fill="#1180d4"/>
<path d="M343.5,34 L348.6,36.5 L369,35 C374,35 376.8,38.5 377,43 C377.2,47.5 375,50.5 371,51.5 L356,54.5 C353,55.5 351,57.5 349.5,59.5 C351,52 354,47 358,45.5 L349,43.5 C346.5,41.5 344,38 343.5,34 Z" fill="#2399ea"/>
<path d="M327.2,57.4 C330,50 334,43.5 338,38.5 C340,36 342,34.5 343.5,34 C344,38 346.5,41.5 349,43.5 C343,47 339.5,52.5 337.5,58 C336,62.5 333.5,66 330.5,67.5 Z" fill="#168ade"/>
<path d="M331.5,66 C335.5,63.5 337.5,59 339.5,54.5 C341.5,50 345,46.5 350,45.5 L358,45.5" stroke="#0a5eae" stroke-width="1.3" fill="none"/>
<path d="M329.6,76 L335,75 C339.5,73 343,70 346,65 C348.5,60.5 351,56.5 356,54.5 L371,51.5 C375,50.5 377.2,47.5 377,43 C376,46 374,48 371,48.8 L355,51.5 C350,53 347,57 344.5,62 C342,67 338.5,71 334,72.5 L329.6,74.5 Z" fill="#0a5eae"/>
<circle cx="367" cy="43.6" r="1.7" fill="#fff"/><ellipse cx="322.5" cy="65.5" rx="1.5" ry="1.3" fill="#fff"/>
</g>
<!-- 7L282 tube -->
<g id="tube" fill="none" stroke-linejoin="round" stroke-linecap="round">
<path d="M220.9,109 C220.5,103 219,98.5 216,95.5 C213,93 209,94.5 208,98.5 L208,116 C208.5,124 209.5,129 211,133 C213,138 217,140.5 218,145 C219.5,151 220.5,156 220,160.5 C219.5,164.5 217.5,167 217,168.5 L245,165.5 L281,161.4 L296,151.7 C300,143 303,132 306,124 C309,116 311.5,108 314,104.8 L321,126 L328,146 L331,150 C335,144 340,138.5 345,135 C350,131.5 353,128.5 356,128.5 C360,128.5 362,131.5 362.4,135 L362.4,142" stroke="#1d2a3c" stroke-width="4.2"/>
<path d="M353,129.5 C355,128.3 358,128.6 360,130.5 C361.8,132.3 362.4,134.5 362.4,137 L362.4,142.5" stroke="#1d2a3c" stroke-width="5.8"/><path d="M208.2,101 L208.2,122" stroke="#1d2a3c" stroke-width="5.2"/>
<path d="M219.5,108 C219,103 218,99.5 215.5,97 C213.5,95.5 210,96.5 209.3,99 M209.2,117 C209.7,124 210.5,128.5 212,132 M218,168 L245,164.5 L281,160.4 L295,151" stroke="#52627a" stroke-width="1" opacity="0.9"/>
<path d="M306.5,121 C309,114 311.5,108 313.5,105.5 M332,148.5 C336,143 341,137.5 346,134 C350,131 353,129.3 356,129.3" stroke="#52627a" stroke-width="1" opacity="0.9"/>
</g>
<!-- 7052C bracket -->
<g id="br7052c">
<path d="M109,383.3 L110.3,368.8 L126.9,359.1 L139.3,352.2 L146.9,355.7 L160.7,354.3 L165.5,357.8 L155.2,365.3 L145.5,369.5 L137.2,375 L127.6,380.5 L122.8,388.1 L115.2,391.6 L109,386 Z" fill="#9496bc"/>
<path d="M110.3,368.8 L126.9,359.1 L133,362.5 L116.5,375 Z" fill="#b6b8d6"/>
<path d="M126.9,359.1 L139.3,352.2 L146.9,355.7 L135,362.5 Z" fill="#a6a8ca"/>
<path d="M135,362.5 L146.9,355.7 L160.7,354.3 L165.5,357.8 L142,366.5 Z" fill="#6e7098"/>
<path d="M142,366.5 L165.5,357.8 L155.2,365.3 L145.5,369.5 L137.2,375 L134,372 Z" fill="#a0a2c6"/>
<path d="M116.5,375 L133,362.5 L135,370 L122,379 Z" fill="#8486ae"/>
<path d="M109,383.3 L116.5,375 L122,379 L131,374 L137.2,375 L127.6,380.5 L122.8,388.1 L115.2,391.6 L109,386 Z" fill="#a2a4c8"/>
<path d="M117,381.5 L121,379.5 L123,385.5 L119,387.5 Z" fill="#d0d2e6"/>
<path d="M109,386 L115.2,391.6 L122.8,388.1 L127.6,380.5 L126,380 L121.5,386 L115.5,389 Z" fill="#686a92"/>
</g>
<!-- green arrow -->
<g><path d="M545,652.5 L447.5,693.8" stroke="#00f03c" stroke-width="5.2" stroke-linecap="round"/><path d="M425.6,702.2 L444.6,685.6 L450.6,700.6 Z" fill="#00f03c"/></g>
<!-- ASSEMBLY (dash-dot) LINES -->
<g id="asm" fill="none" stroke="#2a2a2a" stroke-width="0.9">
<!-- clip to tube -->
<path d="M282.5,76 L263.4,87.4"/><path d="M263.4,87.4 V148.8" stroke-dasharray="34 3 3 3"/><path d="M263.4,148.8 L243.8,162.5"/>
<!-- clip to bracket -->
<path d="M304,76.5 L324,66.3" stroke="#333" stroke-width="2.2"/><path d="M304,76.5 L324,66.3" stroke="#fff" stroke-width="1"/>
<!-- bracket to HS4 -->
<path d="M367,45 V67" stroke="#8a96a8" stroke-width="2"/><path d="M367,45 V67" stroke="#fff" stroke-width="0.9"/>
<!-- tube to 7H398A and down -->
<path d="M361.5,145 L359.2,196" stroke-dasharray="20 3 3 3"/>
<!-- HS3 box -->
<path d="M182.8,213.6 L202,205.9"/><path d="M202,205.9 V241.7" stroke-dasharray="22 3 3 3"/><path d="M202,241.7 L140.8,268.2" stroke-dasharray="22 3 3 3"/><path d="M140.8,268.2 V334.5" stroke-dasharray="30 3 3 3"/><path d="M140.8,334.5 L154,328.5"/>
<!-- HM1 to trans -->
<path d="M177,318 L191.5,311.3"/>
<!-- 7052C -->
<path d="M162.8,356.5 L177,348.8 V323.4 L192,316.5"/>
<!-- HB2 -->
<path d="M185,372.5 L171.7,378.6"/><path d="M171.7,378.6 V441" stroke-dasharray="22 3 3 3"/><path d="M171.7,441 L164.5,444.3"/>
<!-- 7A010 -->
<path d="M251.7,211.4 L284,277" stroke-dasharray="24 3 3 3"/>
<!-- HB1 -->
<path d="M275,268.8 L262.4,275.9"/>
<!-- HS2a / HS2b -->
<path d="M199.4,460.3 L218,450.8"/><path d="M231.4,494 L263.4,478.6" stroke-dasharray="12 3 3 3"/>
<!-- vertical to pan / HS1 -->
<path d="M320.7,469 V540" stroke-dasharray="26 3 3 3"/><path d="M320.7,557 V587" stroke-dasharray="14 3 3 3"/><path d="M320.7,606 V660" stroke-dasharray="30 3 3 3"/>
<path d="M320.9,540 V556.5 M320.9,587.5 V604" stroke="#b4bac8" stroke-width="1.8"/>
<!-- 7G276 / 7H398B -->
<path d="M488.7,135 L477.7,141.2"/><path d="M477.7,141.2 V219.7" stroke-dasharray="28 3 3 3"/><path d="M477.7,219.7 L468.3,224.4"/>
<path d="M497.5,166 L488.6,170.4"/><path d="M488.6,170.4 V220.7" stroke-dasharray="28 3 3 3"/><path d="M488.6,220.7 L479.7,230"/>
<!-- axis line -->
<path d="M504,265.5 L523.4,257"/><path d="M538.6,249 L552.4,242.6"/><path d="M556.5,240.7 L578.6,228.8"/><path d="M588.3,222.8 L603.4,214.5"/><path d="M646,190 L656,185.5"/>
<!-- 7B498 -->
<path d="M431,418.3 L450.7,428.6" stroke-dasharray="8 2.5 2.5 2.5"/>
<!-- 7H398C -->
<path d="M400.7,447 L409,452"/>
</g>
<!-- white lines over body -->
<g fill="none">
<path d="M356.6,224 V303" stroke="#4a5a6e" stroke-width="2" stroke-dasharray="22 2 3 2"/><path d="M356.6,224 V303" stroke="#f2f7fc" stroke-width="0.9"/><path d="M356.6,262 V303" stroke="#0a5a92" stroke-width="2.2"/><path d="M356.6,262 V303" stroke="#eef5fb" stroke-width="1"/>
<path d="M191.5,311.3 L226.9,300" stroke="#20364e" stroke-width="2"/><path d="M191.5,311.3 L226.9,300" stroke="#dfeaf4" stroke-width="0.7"/>
<path d="M192,316.5 L226,303.5" stroke="#20364e" stroke-width="1.8"/><path d="M192,316.5 L226,303.5" stroke="#dfeaf4" stroke-width="0.6"/>
<path d="M412.4,407 L431,418.3" stroke="#0a4a7a" stroke-width="2.4"/><path d="M412.4,407 L431,418.3" stroke="#e8f2fa" stroke-width="1"/>
<path d="M381,380.7 L397.6,389 V442.8" stroke="#0a4a7a" stroke-width="2.4"/><path d="M381,380.7 L397.6,389 V442.8" stroke="#e8f2fa" stroke-width="1"/>
</g>
<!-- LABELS + LEADERS -->
<g id="leaders" class="ld">
<path d="M290.3,38 V62"/><path d="M378,43.4 H405.5"/><path d="M378,79 H407.5"/>
<path d="M505.7,90 V111"/><path d="M178,132.4 H208"/><path d="M516,160 H541.5"/>
<path d="M658,152.5 V171"/><path d="M154.3,197 V223"/><path d="M212.5,190 H237"/>
<path d="M366,209.3 H393"/><path d="M521.2,209.5 V233"/><path d="M301,229.5 V250"/>
<path d="M588.3,248 V265.5"/><path d="M554.3,252.6 V283.5"/><path d="M554.3,296.5 V311.6 H635.2 V236.6"/><path d="M594.6,311.6 V321"/>
<path d="M164.6,288.5 V314.5"/><path d="M523,360.6 H555.5"/><path d="M142.3,373.5 V396.5"/>
<path d="M554.5,410.4 H578.6"/><path d="M467.3,433.6 H494.5"/><path d="M429.2,459.6 H454"/>
<path d="M141,466.3 V488"/><path d="M177.3,481.7 V504"/><path d="M206.5,517 V539"/>
<path d="M288.7,558.3 H313"/><path d="M289.5,683.4 H312"/><path d="M403.4,675 V699"/>
</g>
<g id="dots" class="dt">
<circle cx="290.3" cy="62" r="1.9"/><circle cx="378" cy="43.4" r="1.9"/><circle cx="378" cy="79" r="1.9"/>
<circle cx="505.7" cy="111.2" r="1.9"/><circle cx="208" cy="132.4" r="1.9"/><circle cx="515.8" cy="160" r="1.9"/>
<circle cx="658" cy="171" r="1.9"/><circle cx="154.3" cy="223" r="1.9"/><circle cx="237" cy="190" r="1.9"/>
<circle cx="366" cy="209.3" r="1.9"/><circle cx="521.2" cy="233.2" r="1.9"/><circle cx="301" cy="250" r="1.9"/>
<circle cx="588.3" cy="248" r="1.9"/><circle cx="554.3" cy="252.6" r="1.9"/><circle cx="635.2" cy="236.6" r="1.9"/>
<circle cx="164.6" cy="314.6" r="1.9"/><circle cx="523" cy="360.6" r="1.9"/><circle cx="142.3" cy="373.5" r="1.9"/>
<circle cx="554.5" cy="410.4" r="1.9"/><circle cx="467.3" cy="433.6" r="1.9"/><circle cx="429.2" cy="459.6" r="1.9"/>
<circle cx="141" cy="466.3" r="1.9"/><circle cx="177.3" cy="481.7" r="1.9"/><circle cx="206.5" cy="517" r="1.9"/>
<circle cx="312.9" cy="558.3" r="1.9"/><circle cx="312" cy="683.4" r="1.9"/><circle cx="403.4" cy="675" r="1.9"/>
</g>
<rect x="383.9" y="700" width="37.3" height="13.6" fill="#f1f5ff" stroke="#f00018" stroke-width="2.6"/><rect x="385.6" y="702.3" width="33.6" height="9.4" fill="#dbe6ff"/>
<g id="labels" class="lb">
<text x="273" y="37">2B223</text><text x="406.2" y="47.8">9B450</text><text x="408.4" y="83.4">HS4</text>
<text x="486.5" y="88.3">7G276</text><text x="142.5" y="137">7L282</text><text x="542.6" y="163.9">7H398B</text>
<text x="645.7" y="151">HN1</text><text x="142.8" y="196">HS3</text><text x="176.7" y="196">7A010</text>
<text x="394" y="213.5">7H398A</text><text x="503" y="207.5">7052B</text><text x="289.8" y="228.2">HB1</text>
<text x="574.5" y="277">4859</text><text x="536.7" y="294.5">7052A</text><text x="152.5" y="287">HM1</text>
<text x="580.8" y="333">7089</text><text x="556.4" y="365">7005</text><text x="124.2" y="407.3">7052C</text>
<text x="579.9" y="415.2">7L027</text><text x="495.2" y="438.5">7B498</text><text x="454.9" y="464.2">7H398C</text>
<text x="128.8" y="500">HB2</text><text x="165.2" y="515.5">HS2</text><text x="195" y="550">HS2</text>
<text x="252.3" y="562.8">7A191</text><text x="265.8" y="688">HS1</text><text x="385.2" y="711.4">7A194</text>
</g>
<g font-family="Liberation Sans, sans-serif" font-size="10.5" fill="#111">
<text x="672" y="704">307</text><text x="669.5" y="718.5">08-2</text>
</g>
<rect x="688" y="690" width="37" height="35" fill="#fff"/>
</svg>
</body></html>
